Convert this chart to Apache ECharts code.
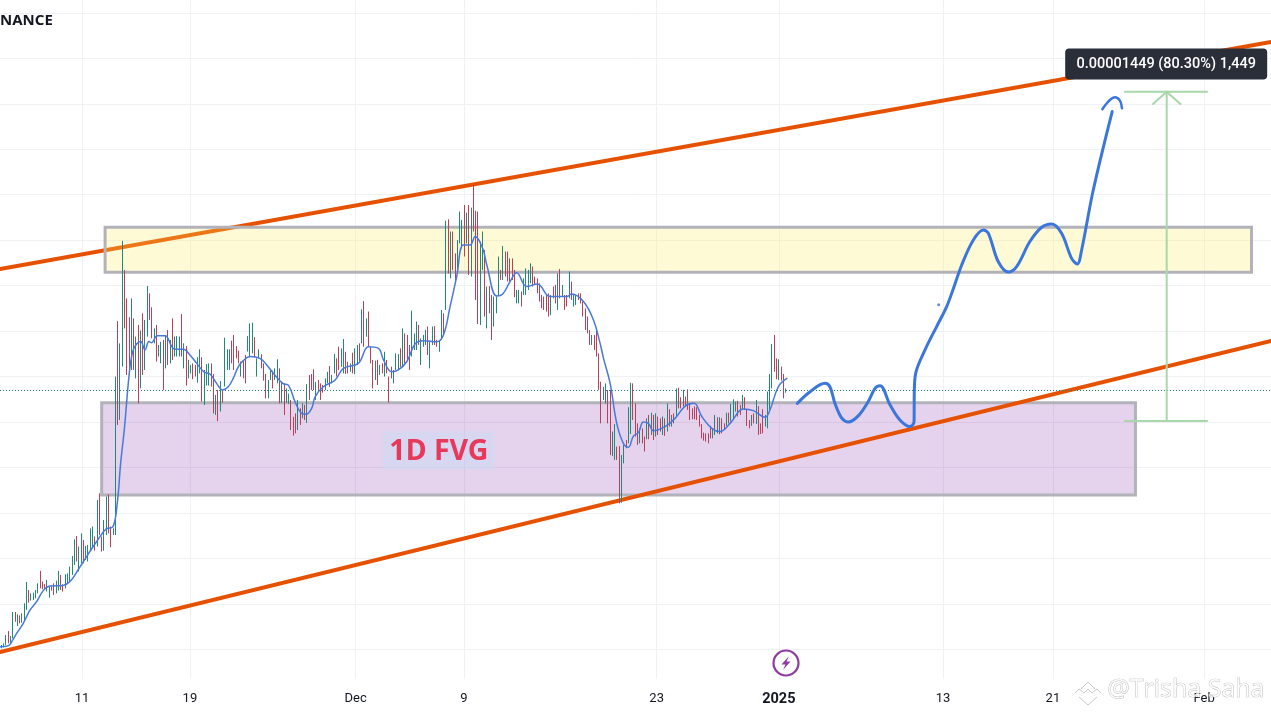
<!DOCTYPE html>
<html>
<head>
<meta charset="utf-8">
<title>Price channel with FVG zones</title>
<style>html,body{margin:0;padding:0;background:#fff;}#chart{width:1271px;height:714px;}</style>
<script src="https://cdn.jsdelivr.net/npm/echarts@6/dist/echarts.min.js"></script>
</head>
<body>
<div id="chart"></div>
<script>
// Prices are in ticks of 0.00000001. The horizontal scale is the 4h bar number.
const tickBars = [35.3, 82.6, 155.3, 202.8, 287.3, 340.9, 412.9, 461.1, 527.4];
const tickLabels = ['11', '19', 'Dec', '9', '23', '2025', '13', '21', 'Feb'];
const priceTicks = [800, 1000, 1200, 1400, 1600, 1800, 2000, 2200, 2400, 2600, 2800, 3000, 3200, 3400, 3600];

const barHigh = [
  819,826,863,880,858,964,964,954,949,958,
  1002,1096,1061,1046,1049,1061,1090,1145,1098,1087,
  1105,1076,1076,1090,1102,1145,1127,1086,1130,1134,
  1164,1210,1284,1298,1252,1310,1281,1255,1259,1332,
  1340,1296,1457,1486,1296,1369,1472,1482,1340,1332,
  2000,2244,2146,2597,2469,2344,2261,2344,2256,2176,
  2227,2202,2278,2249,2399,2366,2305,2212,2227,2139,
  2153,2161,2183,2205,2161,2256,2176,2178,2176,2275,
  2146,2134,2073,2051,2058,2051,2085,2120,2085,2029,
  2055,2058,2058,2011,1919,1941,1980,1941,2171,2120,
  2120,2158,2183,2134,2114,2066,2073,2095,2178,2234,
  2237,2173,2080,2120,2098,2058,2011,1985,2029,2026,
  2036,2076,2036,1977,1970,1948,1925,1897,1823,1838,
  1897,1860,1882,1875,1967,2007,2011,2032,1977,1985,
  1970,1963,1992,2021,2046,2007,2099,2080,2131,2124,
  2165,2109,2065,2058,2105,2124,2139,2146,2296,2332,
  2256,2286,2131,2073,2070,2073,2051,2058,2109,2073,
  2000,2043,2029,2102,2099,2124,2212,2190,2183,2139,
  2290,2190,2242,2227,2168,2183,2205,2220,2158,2220,
  2222,2161,2161,2293,2278,2686,2692,2638,2638,2542,
  2601,2726,2689,2755,2721,2755,2743,2843,2730,2726,
  2594,2638,2557,2396,2398,2359,2352,2352,2528,2469,
  2575,2550,2550,2520,2520,2469,2381,2381,2374,2432,
  2476,2469,2498,2484,2440,2432,2410,2359,2352,2359,
  2366,2359,2396,2403,2454,2473,2403,2359,2359,2462,
  2418,2359,2359,2366,2366,2330,2300,2264,2205,2183,
  2183,2205,2102,1977,1955,1970,1941,1941,1758,1791,
  1692,1694,1655,1699,1721,1865,1973,1970,1882,1794,
  1772,1772,1736,1816,1831,1841,1831,1838,1824,1816,
  1824,1816,1882,1856,1831,1838,1948,1951,1909,1941,
  1912,1944,1882,1860,1868,1865,1831,1791,1753,1750,
  1750,1783,1772,1831,1821,1821,1816,1794,1841,1841,
  1879,1900,1890,1893,1875,1919,1909,1853,1809,1831,
  1838,1897,1870,1794,1856,1831,1934,2011,2143,2183,
  2080,2076,2044,2011,1948
];
const barLow = [
  804,809,819,826,826,848,921,902,914,917,
  929,973,1005,1014,1017,1024,1046,1068,1064,1061,
  1054,1027,1058,1039,1046,1058,1061,1054,1068,1087,
  1098,1127,1171,1186,1142,1178,1178,1193,1186,1237,
  1244,1234,1252,1303,1230,1234,1303,1310,1249,1303,
  1303,1787,1809,2044,2212,2007,2010,2029,2029,1992,
  1882,1948,2007,2029,2176,2249,2168,2146,2066,2088,
  2058,1941,2036,2051,2058,2073,2088,2088,2088,2088,
  2036,1960,1992,2014,1988,2000,1973,2014,1890,1875,
  1960,1960,1956,1838,1831,1804,1846,1885,1956,2029,
  2029,2058,2029,2080,2058,2000,1992,1970,2110,2085,
  2102,2085,2000,2080,2036,1982,1904,1904,1985,1948,
  1985,1970,1882,1885,1831,1885,1880,1765,1740,1750,
  1765,1787,1816,1809,1797,1897,1941,1941,1897,1933,
  1897,1929,1941,1970,1955,1970,2014,2000,2029,2043,
  2014,2011,2014,2021,2014,2011,2051,2065,2146,2131,
  2175,2131,2058,1948,1985,1963,2007,2014,2000,2014,
  1885,1992,1970,2029,2029,2043,2043,2058,2073,2029,
  2088,2117,2117,2139,2051,2131,2139,2095,2036,2139,
  2139,2131,2109,2161,2183,2293,2454,2432,2469,2410,
  2454,2586,2564,2528,2586,2447,2440,2638,2337,2231,
  2227,2469,2264,2212,2278,2161,2220,2278,2359,2425,
  2425,2440,2418,2418,2425,2349,2322,2322,2308,2359,
  2359,2381,2410,2396,2403,2366,2330,2300,2293,2286,
  2264,2271,2344,2322,2293,2344,2352,2293,2308,2344,
  2337,2308,2315,2337,2322,2264,2205,2190,2139,2139,
  2117,2088,1941,1794,1897,1882,1794,1655,1650,1633,
  1633,1442,1445,1618,1684,1706,1747,1809,1736,1699,
  1706,1706,1670,1724,1724,1743,1721,1736,1743,1758,
  1743,1739,1758,1780,1780,1794,1824,1860,1860,1868,
  1868,1853,1809,1812,1812,1809,1780,1728,1718,1714,
  1706,1728,1728,1743,1750,1746,1750,1765,1783,1794,
  1802,1816,1846,1824,1831,1853,1853,1783,1772,1783,
  1794,1791,1743,1747,1750,1780,1772,1853,1948,2022,
  1988,1985,1982,1904,1929
];
// u = closed up, d = closed down, one letter per bar
const barDirection = (
  'uuuduududu' + 'uuduuuuddd' + 'uudduudduu' + 'uuuduuduuu' + 'ududduuddu' +
  'uduudddudu' + 'duduuddudu' + 'udududuuud' + 'uduudduudu' + 'uuddududuu' +
  'uddddudduu' + 'uduuddduud' + 'uududuuddd' + 'udududddud' + 'dduuduuddu' +
  'udduduudud' + 'udddududud' + 'dduuududdd' + 'uuuduuuduu' + 'dduudududd' +
  'uuudududdd' + 'uududduuud' + 'uddddduudu' + 'uuuddddddd' + 'duddududdu' +
  'duuddddddu' + 'dddduudduu' + 'dduuduuddd' + 'uddudududd' + 'ududududdu' +
  'dddddddddd' + 'dduududdud' + 'uuuddudddu' + 'duddduuuud' + 'duddu'
).split('');

const maBars = [-0.7,3,4.9,6.6,9.5,12.5,15.4,18.3,21.2,27,30,33.7,38,41.7,46,48.7,50.8,52.2,53.8,56,57.5,59.2,61,62.9,64.6,65.8,68.3,71.7,74.6,76,79.7,82.6,85.6,88.8,91.4,94.3,97,99.4,101.6,103.8,106,109,113.3,116.3,119.2,123.3,125.9,128.7,131.6,133.5,136,137.5,141.1,146.3,149.9,156.5,160.9,165.3,167.5,171.1,174,177.7,181.3,185,190.8,193.8,196.7,199.6,202.5,205.5,207.7,211,212.8,217.2,219.8,223,225.9,230.3,235,240.5,247.9,250,255.2,259.6,262.5,264,266.9,269.8,272.7,274.9,277.1,279.3,281.5,283.7,285.9,291,295.4,299.8,303.7,307.1,311.5,315.1,319.5,325.4,329.7,334.9,337,340.7,344.4];
const maValues = [811,816,841,870,914,973,1010,1058,1078,1081,1098,1152,1219,1274,1331,1337,1450,1618,1765,2014,2110,2143,2154,2117,2154,2149,2180,2180,2132,2120,2120,2095,2058,2020,2011,1970,1941,1955,1992,2043,2070,2088,2080,2051,2014,1970,1960,1889,1838,1834,1860,1911,1955,1985,2036,2058,2131,2124,2073,2021,2029,2065,2143,2158,2153,2183,2308,2440,2579,2579,2616,2564,2491,2354,2363,2418,2457,2396,2407,2352,2352,2363,2330,2249,2146,2080,1970,1794,1706,1689,1738,1753,1800,1794,1762,1780,1816,1870,1882,1824,1772,1758,1794,1857,1850,1821,1853,1956,1992];

const lastPrice = 1938.6;
const upperChannel = [[-0.7, 2473], [556.75, 3472]];
const lowerChannel = [[-0.7, 788], [556.75, 2157]];
const resistanceZone = [45.4, 2657, 548.2, 2459];
const fvgZone = [43.9, 1885, 497.3, 1479];

// Projected path sketched after the last bar
const sketchBars = [349,354.6,361.1,363.3,365.5,368.5,371.4,375.7,380.1,383.1,385.3,389.7,394,398.4,400.2,400.3,400.9,405,410.1,414.5,417.3,421.1,426.2,430.6,432.8,437.1,441.5,445.2,451,456.2,460.6,464.9,469.3,471.8,473.7,478.8,487.1];
const sketchValues = [1882,1933,1970,1955,1882,1817,1800,1827,1890,1948,1959,1875,1809,1780,1802,1926,2014,2117,2220,2308,2383,2491,2601,2645,2630,2506,2460,2484,2594,2657,2671,2630,2520,2495,2557,2821,3166];
const capBars = [482.8,485.4,488.3,490.5,491.4];
const capValues = [3176,3210,3229,3214,3180];
const strayDot = [411, 2316];

// Measured move
const measureBase = 1804;
const measureTop = 3253;
const measureBar = 511;
const measureCapBars = [492.7, 528.7];
const arrowWingBars = [505, 517];
const arrowWingValue = 3199;
const measureText = '0.00001449 (80.30%) 1,449';
const measureLabelValue = 3375;

const zoneTitle = '1D FVG';
const zoneTitlePos = [191.8, 1673];

const pairs = (xs, ys) => xs.map((x, i) => [x, ys[i]]);
const bars = barHigh.map((h, i) => {
  const l = barLow[i];
  return barDirection[i] === 'u' ? [i, l, h, l, h] : [i, h, l, l, h];
});

const fontUI = 'Roboto, "Noto Sans", sans-serif';
const axisColor = '#131722';
const gridColor = '#f0f1f4';
const orange = '#e65100';
const sketchBlue = '#3b76dd';
const measureGreen = '#a8d8aa';

function zoneSeries(zone, fill, z) {
  return {
    type: 'custom', silent: true, z: z, clip: true,
    data: [zone],
    renderItem(params, api) {
      const a = api.coord([api.value(0), api.value(1)]);
      const b = api.coord([api.value(2), api.value(3)]);
      return {
        type: 'rect',
        shape: { x: a[0], y: a[1], width: b[0] - a[0], height: b[1] - a[1] },
        style: { fill: fill, stroke: '#b2b2ba', lineWidth: 3 }
      };
    }
  };
}
function pathSeries(data, color, width, z, smooth, extra) {
  return Object.assign({
    type: 'line', data: data, z: z, silent: true, symbol: 'none', smooth: smooth,
    lineStyle: { color: color, width: width, cap: 'round', join: 'round' }
  }, extra || {});
}

const chart = echarts.init(document.getElementById('chart'), null, { renderer: 'canvas' });
chart.setOption({
  animation: false,
  backgroundColor: '#ffffff',
  grid: { left: 0, right: 0, top: 0, height: 679, containLabel: false },
  xAxis: {
    type: 'value', min: -0.7, max: 556.75,
    axisLine: { show: false },
    axisTick: { show: false, customValues: tickBars },
    splitLine: { show: true, lineStyle: { color: gridColor, width: 1 } },
    axisLabel: {
      customValues: tickBars, margin: 13, color: axisColor, fontFamily: fontUI, fontSize: 13,
      hideOverlap: false,
      formatter(v) {
        const t = tickLabels[tickBars.indexOf(v)];
        return t === '2025' ? '{year|2025}' : t;
      },
      rich: { year: { fontWeight: 'bold', fontSize: 14.5, fontFamily: fontUI, color: axisColor } }
    }
  },
  yAxis: {
    type: 'value', min: 669.2, max: 3656.8,
    axisLine: { show: false },
    axisLabel: { show: false },
    axisTick: { show: false, customValues: priceTicks },
    splitLine: { show: true, lineStyle: { color: gridColor, width: 1 } }
  },
  series: [
    pathSeries(upperChannel, orange, 4, 1, false),
    zoneSeries(fvgZone, 'rgba(123,31,162,0.2)', 1),
    zoneSeries(resistanceZone, 'rgba(255,235,90,0.25)', 2),
    pathSeries(lowerChannel, orange, 4, 3, false),
    pathSeries([[-0.7, lastPrice], [556.75, lastPrice]], '#22897a', 1, 3, false, {
      lineStyle: { color: '#1f7f72', width: 1, type: [1, 2] }
    }),
    {
      type: 'custom', silent: true, z: 3,
      data: [[zoneTitlePos[0], zoneTitlePos[1]]],
      renderItem(params, api) {
        const p = api.coord([api.value(0), api.value(1)]);
        return {
          type: 'group',
          children: [
            { type: 'rect', shape: { x: p[0] - 56, y: p[1] - 19.5, width: 111, height: 38 },
              style: { fill: 'rgba(190,225,255,0.35)' } },
            { type: 'text', x: p[0], y: p[1] + 1, style: {
              text: zoneTitle, fill: '#e8395a', align: 'center', verticalAlign: 'middle',
              font: 'bold 28.5px "Noto Sans", sans-serif'
            } }
          ]
        };
      }
    },
    {
      type: 'candlestick', z: 4, silent: true, barWidth: 1,
      encode: { x: 0, y: [1, 2, 3, 4] },
      data: bars,
      itemStyle: { color: '#22897a', color0: '#b8405a', borderColor: '#22897a', borderColor0: '#b8405a', borderWidth: 1 }
    },
    pathSeries(pairs(maBars, maValues), '#4679d8', 1.5, 5, 0.4),
    pathSeries(pairs(sketchBars, sketchValues), sketchBlue, 3, 6, 0.35),
    pathSeries(pairs(capBars, capValues), sketchBlue, 2.5, 6, 0.4),
    {
      type: 'scatter', z: 6, silent: true, symbolSize: 3,
      itemStyle: { color: sketchBlue }, data: [strayDot]
    },
    pathSeries([[measureBar, measureBase], [measureBar, measureTop]], measureGreen, 2, 5, false),
    pathSeries([[measureCapBars[0], measureBase], [measureCapBars[1], measureBase]], measureGreen, 2, 5, false),
    pathSeries([[measureCapBars[0], measureTop], [measureCapBars[1], measureTop]], measureGreen, 2, 5, false),
    pathSeries([[arrowWingBars[0], arrowWingValue], [measureBar, measureTop], [arrowWingBars[1], arrowWingValue]], measureGreen, 2, 5, false),
    {
      type: 'custom', silent: true, z: 7,
      data: [[measureBar, measureLabelValue]],
      renderItem(params, api) {
        const p = api.coord([api.value(0), api.value(1)]);
        return {
          type: 'group',
          children: [
            { type: 'rect', shape: { x: p[0] - 101.5, y: p[1] - 15.5, width: 202, height: 31, r: 4 },
              style: { fill: '#2a2e39' } },
            { type: 'text', x: p[0] - 0.5, y: p[1] + 0.5, style: {
              text: measureText, fill: '#ffffff', align: 'center', verticalAlign: 'middle',
              font: '500 14.5px ' + fontUI
            } }
          ]
        };
      }
    }
  ],
  graphic: [
    { type: 'text', left: 0, top: 13, z: 10, style: { text: 'NANCE', fill: axisColor, font: 'bold 15px "Noto Sans", sans-serif' } },
    { type: 'circle', z: 10, shape: { cx: 786, cy: 663, r: 12.5 }, style: { fill: '#ffffff', stroke: '#8e3aa0', lineWidth: 2.2 } },
    { type: 'polygon', z: 11, shape: { points: [[789, 656], [781.5, 664.5], [785.5, 664.5], [783, 670], [790.5, 661.5], [786.5, 661.5]] }, style: { fill: '#8e3aa0' } },
    // Author mark at the lower right, drawn over the axis labels
    { type: 'polyline', z: 20, shape: { points: [[1081, 689], [1088, 682], [1095, 689]] }, style: { fill: 'none', stroke: '#c8c8c8', lineWidth: 1 } },
    { type: 'polyline', z: 20, shape: { points: [[1075, 693], [1079, 689], [1084, 693], [1088, 689], [1092, 693], [1097, 689], [1101, 693]] }, style: { fill: 'none', stroke: '#c8c8c8', lineWidth: 1 } },
    { type: 'polyline', z: 20, shape: { points: [[1079, 697], [1088, 705], [1097, 697]] }, style: { fill: 'none', stroke: '#c8c8c8', lineWidth: 1 } },
    { type: 'text', left: 1107, top: 677, z: 20, style: {
      text: '@Trisha Saha', fill: 'rgba(255,255,255,0.75)', stroke: '#b4b4b4', lineWidth: 0.7,
      font: '25px "Open Sans", sans-serif'
    } }
  ]
});
</script>
</body>
</html>
